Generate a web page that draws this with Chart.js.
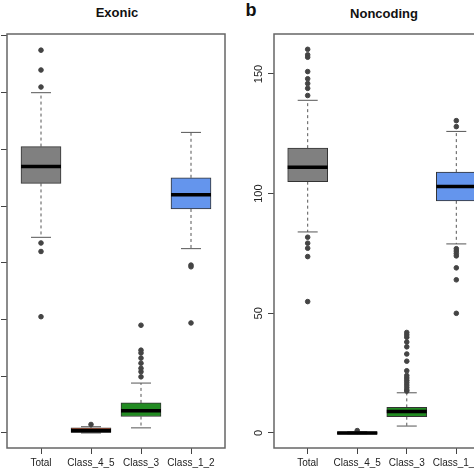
<!DOCTYPE html>
<html><head><meta charset="utf-8">
<script src="https://cdn.jsdelivr.net/npm/chart.js@4"></script>
<style>
html,body{margin:0;padding:0;width:474px;height:474px;overflow:hidden;background:#fff;position:relative;font-family:"Liberation Sans",Arial,sans-serif}
.t{position:absolute;font-weight:bold;color:#111;transform:translateX(-50%);white-space:nowrap}
canvas{position:absolute;top:0}
</style></head><body>
<div class="t" style="left:117px;top:5px;font-size:13px">Exonic</div>
<div class="t" style="left:384px;top:6px;font-size:13px">Noncoding</div>
<div class="t" style="left:251px;top:0px;font-size:18px">b</div>
<div id="w1" style="position:absolute;left:-60px;top:0;width:290px;height:474px"><canvas id="c1"></canvas></div>
<div id="w2" style="position:absolute;left:237px;top:0;width:258px;height:474px"><canvas id="c2"></canvas></div>
<script>
const categories=['Total','Class_4_5','Class_3','Class_1_2'];
const colors=['#808080','#c8502a','#228b22','#6495ed'];
// Exonic
const exLow=[34.5,0,0.9,32.5];
const exQ1=[44,0,2.9,39.5];
const exMed=[47,0.4,3.9,42];
const exQ3=[50.5,0.9,5.3,45];
const exHigh=[60,1.1,8.8,53];
const exOut=[[67.5,64,61,33.5,32,20.5],[1.5],[19,14.6,14.1,13.2,12.3,11.4,10.8,9.9],[29.6,29.3,19.4]];
const exTicks=[0,10,20,30,40,50,60,70];
// Noncoding
const ncLow=[84,-0.3,2.9,79];
const ncQ1=[105,-0.5,6.8,97];
const ncMed=[111,0,9,103];
const ncQ3=[119,0.5,10.7,109];
const ncHigh=[139,0.5,16.8,126];
const ncOut=[[160.3,158,157,151,148,146,144,141,81.8,79.3,77.2,73.7,54.9],[1],[17.5,18,19,20,21,22,23,24,26,30,33,36,38,40,41,42],[130.5,128,77,76,75,74,69,64,50]];
const ncTicks=[0,50,100,150];

function make(id,low,q1,med,q3,high,outs,ticks,ymin,ymax,yw,padR,rotLabels){
  const boxPlug={id:'box',
    beforeDatasetsDraw(ch){const x=ch.scales.x,y=ch.scales.y,c=ch.ctx;c.save();
      c.strokeStyle='#555';c.lineWidth=1;
      categories.forEach((_,i)=>{const px=x.getPixelForValue(i+1);
        c.setLineDash([3,3]);c.beginPath();
        c.moveTo(px,y.getPixelForValue(q3[i]));c.lineTo(px,y.getPixelForValue(high[i]));
        c.moveTo(px,y.getPixelForValue(q1[i]));c.lineTo(px,y.getPixelForValue(low[i]));c.stroke();
        c.setLineDash([]);c.beginPath();
        [high[i],low[i]].forEach(v=>{const py=y.getPixelForValue(v);c.moveTo(px-10,py);c.lineTo(px+10,py);});
        c.stroke();});
      c.restore();},
    afterDatasetsDraw(ch){const x=ch.scales.x,y=ch.scales.y,c=ch.ctx,a=ch.chartArea;c.save();
      c.strokeStyle='#000';c.lineWidth=3.5;
      categories.forEach((_,i)=>{const px=x.getPixelForValue(i+1),py=y.getPixelForValue(med[i]);
        c.beginPath();c.moveTo(px-20,py);c.lineTo(px+20,py);c.stroke();});
      c.strokeStyle='#666';c.lineWidth=1.5;c.strokeRect(a.left,a.top,a.right-a.left,a.bottom-a.top);
      if(rotLabels){c.fillStyle='#222';c.font='11px "Liberation Sans", Arial';c.textAlign='center';c.textBaseline='middle';
        ticks.forEach(t=>{c.save();c.translate(a.left-15,y.getPixelForValue(t));c.rotate(-Math.PI/2);c.fillText(String(t),0,0);c.restore();});}
      c.restore();}};
  return new Chart(document.getElementById(id),{
    data:{datasets:[
      {type:'bar',data:categories.map((_,i)=>({x:i+1,y:[q1[i],q3[i]]})),backgroundColor:colors,borderColor:'#333',borderWidth:1,borderSkipped:false,barThickness:40},
      {type:'scatter',data:outs.flatMap((a,i)=>a.map(v=>({x:i+1,y:v}))),pointRadius:2.3,pointBackgroundColor:'#444',pointBorderColor:'#444'}
    ]},
    options:{responsive:true,maintainAspectRatio:false,animation:false,
      layout:{padding:{top:34,right:padR,left:0,bottom:0}},
      plugins:{legend:{display:false},tooltip:{enabled:false}},
      scales:{
        x:{type:'linear',min:0.32,max:4.68,offset:false,border:{display:false},
          grid:{drawOnChartArea:false,tickLength:6,color:'#444',offset:false},
          afterBuildTicks(s){s.ticks=categories.map((_,i)=>({value:i+1}));},
          afterFit(s){s.height=26;},
          ticks:{autoSkip:false,maxRotation:0,padding:3,color:'#222',font:{size:10,family:'"Liberation Sans", Arial'},callback:(v)=>categories[v-1]}},
        y:{min:ymin,max:ymax,border:{display:false},
          grid:{drawOnChartArea:false,tickLength:6,color:'#444'},
          afterBuildTicks(s){s.ticks=ticks.map(v=>({value:v}));},
          afterFit(s){s.width=yw;},
          ticks:{color:'rgba(0,0,0,0)',font:{size:10}}}
      }},
    plugins:[boxPlug]});
}
make('c1',exLow,exQ1,exMed,exQ3,exHigh,exOut,exTicks,-2.65,70.35,67,3,false);
make('c2',ncLow,ncQ1,ncMed,ncQ3,ncHigh,ncOut,ncTicks,-6.27,166.7,37,3,true);
</script></body></html>
